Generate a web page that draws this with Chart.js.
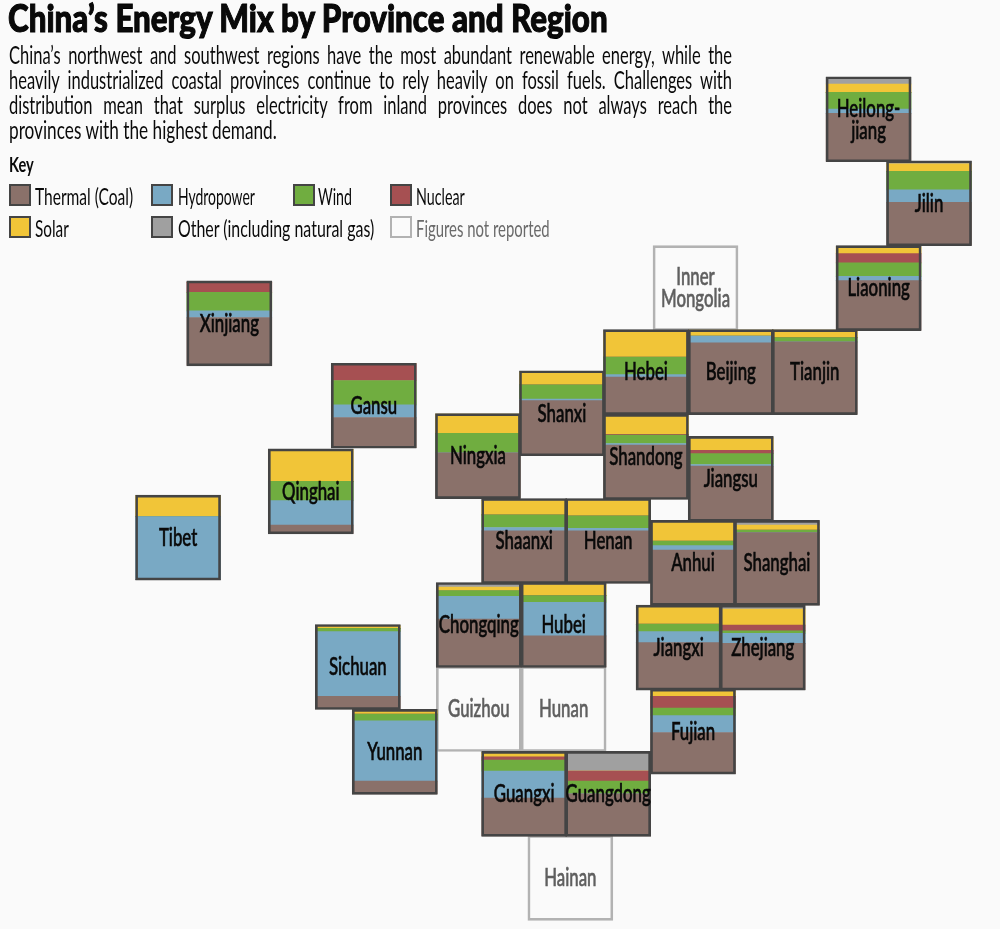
<!DOCTYPE html>
<html>
<head>
<meta charset="utf-8">
<title>China's Energy Mix by Province and Region</title>
<script src="https://cdn.jsdelivr.net/npm/chart.js@4"></script>
<style>
html, body { margin: 0; padding: 0; background: #fafafa; }
body { width: 1000px; height: 929px; position: relative; overflow: hidden; font-family: Lato, sans-serif; color: #0a0a0a; }
#wrap { position: absolute; left: 0; top: 0; width: 1000px; height: 929px; }
h1, .fit { transform-origin: 0 0; white-space: nowrap; }
h1 { position: absolute; left: 8px; top: -4px; margin: 0; font-size: 37px; line-height: 44px; font-weight: 900; -webkit-text-stroke: 1px #000; }
.line { position: absolute; left: 9px; margin: 0; font-size: 25px; line-height: 26px; }
#key { position: absolute; left: 9px; top: 152px; font-size: 21px; line-height: 24px; font-weight: bold; }
.item { position: absolute; font-size: 23px; line-height: 24px; margin-top: -1px; }
.swatch { position: absolute; width: 18px; height: 18px; border: 2px solid #444; }
</style>
</head>
<body>
<div id="wrap"><canvas id="tile-map" width="1000" height="929"></canvas></div>
<h1 class="fit" data-w="600">China’s Energy Mix by Province and Region</h1>
<div id="intro"></div>
<div id="key" class="fit" data-w="25">Key</div>
<div id="legend"></div>
<script>
const provinces = ["Heilong-\njiang", "Jilin", "Liaoning", "Inner\nMongolia", "Xinjiang", "Hebei", "Beijing", "Tianjin",
    "Gansu", "Shanxi", "Ningxia", "Shandong", "Jiangsu", "Qinghai", "Tibet", "Shaanxi",
    "Henan", "Anhui", "Shanghai", "Chongqing", "Hubei", "Jiangxi", "Zhejiang", "Sichuan",
    "Yunnan", "Guizhou", "Hunan", "Fujian", "Guangxi", "Guangdong", "Hainan"];

// tile grid position, in tile widths from the page corner
const gridCol = [9.84, 10.56, 9.96, 7.78, 2.23, 7.19, 8.2, 9.2,
    3.95, 6.19, 5.19, 7.19, 8.2, 3.2, 1.62, 5.74,
    6.74, 7.75, 8.75, 5.2, 6.21, 7.58, 8.58, 3.76,
    4.2, 5.2, 6.21, 7.75, 5.74, 6.74, 6.29];
const gridRow = [0.92, 1.92, 2.93, 2.93, 3.35, 3.93, 3.93, 3.93,
    4.33, 4.42, 4.93, 4.94, 5.2, 5.35, 5.9, 5.94,
    5.94, 6.2, 6.2, 6.94, 6.94, 7.21, 7.21, 7.44,
    8.45, 7.94, 7.94, 8.21, 8.95, 8.95, 9.95];

// share of generation in percent, null = figures not reported
const thermal = [57, 51, 59, null, 57, 44, 85, 86,
    36, 65, 54, 64, 65, 10, 0, 62,
    62, 65, 86, 57, 37, 56, 55, 15,
    15, null, null, 49, 45, 50, null];
const hydro = [5, 15, 5, null, 8, 3, 8, 0,
    15, 2, 0, 2, 2, 29, 75, 4,
    3, 5.5, 0, 27, 40, 13, 12, 77,
    72, null, null, 20, 32, 0, null];
const wind = [20, 22, 16, null, 22, 21, 0, 5,
    29, 17, 23, 10, 13, 23, 0, 15,
    15, 5.5, 3, 7, 8, 9, 3, 4,
    8, null, null, 9, 13, 15, null];
const nuclear = [0, 0, 11, null, 12, 0, 0, 0,
    20, 0, 0, 1, 4, 0, 0, 0,
    0, 0, 0, 0, 0, 0, 7, 0,
    0, null, null, 14, 4, 12, null];
const solar = [10, 9, 8, null, 0, 30, 7, 9,
    0, 15, 23, 22, 14, 38, 25, 17,
    18, 23, 6, 4, 13, 20, 19, 3,
    4, null, null, 6, 5, 0, null];
const other = [8, 3, 1, null, 1, 2, 0, 0,
    0, 1, 0, 1, 2, 0, 0, 2,
    2, 1, 5, 5, 2, 2, 4, 1,
    1, null, null, 2, 1, 23, null];

const seriesNames = ["Thermal (Coal)", "Hydropower", "Wind", "Nuclear", "Solar", "Other (including natural gas)"];
const seriesValues = [thermal, hydro, wind, nuclear, solar, other];
const seriesColors = ["#8a716a", "#79a9c4", "#70ad40", "#a65052", "#f1c538", "#a0a0a0"];

const introLines = [
    "China’s northwest and southwest regions have the most abundant renewable energy, while the",
    "heavily industrialized coastal provinces continue to rely heavily on fossil fuels. Challenges with",
    "distribution mean that surplus electricity from inland provinces does not always reach the",
    "provinces with the highest demand."
];

const tileLine = "#444444";
const missingLine = "#b2b2b2";
const tileSize = 84;
const narrow = 0.7;

// stack the shares upward from the bottom edge of each tile
const running = provinces.map(() => 0);
const fillSets = seriesNames.map((name, s) => {
    const points = [];
    provinces.forEach((p, i) => {
        const v = seriesValues[s][i];
        if (v === null) return;
        const bottom = gridRow[i] + 1 - running[i] / 100;
        points.push({ x: gridCol[i] + 0.5, y: [bottom, bottom - v / 100], province: p, share: v });
        running[i] += v;
    });
    return { label: name, data: points, backgroundColor: seriesColors[s], borderWidth: 0, order: 2 };
});

function outlineSet(label, color, order, test) {
    const points = [];
    provinces.forEach((p, i) => {
        if (test(i)) points.push({ x: gridCol[i] + 0.5, y: [gridRow[i] + 1.006, gridRow[i] - 0.006], province: p });
    });
    return {
        label: label,
        data: points,
        backgroundColor: "rgba(0,0,0,0)",
        borderColor: color,
        borderWidth: 2,
        borderSkipped: false,
        order: order
    };
}

const tileLabels = {
    id: "tileLabels",
    afterDatasetsDraw(chart) {
        const ctx = chart.ctx;
        const { x, y } = chart.scales;
        ctx.save();
        ctx.textAlign = "center";
        ctx.textBaseline = "middle";
        ctx.font = "500 24px Lato";
        ctx.lineWidth = 0.6;
        provinces.forEach((p, i) => {
            ctx.fillStyle = thermal[i] === null ? "#5f5f5f" : "#0a0a0a";
            ctx.strokeStyle = ctx.fillStyle;
            const lines = p.split("\n");
            const cx = x.getPixelForValue(gridCol[i] + 0.5);
            const cy = y.getPixelForValue(gridRow[i] + 0.5);
            lines.forEach((line, n) => {
                ctx.save();
                ctx.translate(cx, cy + 0.5 + (n - (lines.length - 1) / 2) * 22);
                ctx.scale(narrow, 1);
                ctx.fillText(line, 0, 0);
                ctx.strokeText(line, 0, 0);
                ctx.restore();
            });
        });
        ctx.restore();
    }
};

document.fonts.load("500 24px Lato").then(() => {
new Chart(document.getElementById("tile-map"), {
    type: 'bar',
    data: {
        datasets: [
            outlineSet("Figures not reported", missingLine, 3, i => thermal[i] === null),
            ...fillSets,
            outlineSet("Reported", tileLine, 1, i => thermal[i] !== null)
        ]
    },
    options: {
        responsive: false,
        animation: false,
        layout: { padding: 0 },
        datasets: { bar: { grouped: false, barThickness: tileSize + 1 } },
        scales: {
            x: { type: 'linear', display: false, offset: false, min: 0, max: 1000 / tileSize },
            y: { type: 'linear', display: false, reverse: true, min: 0, max: 929 / tileSize }
        },
        plugins: {
            legend: { display: false },
            title: { display: false },
            tooltip: {
                callbacks: {
                    title: items => items[0].raw.province.replace("-\n", "").replace("\n", " "),
                    label: item => item.dataset.label + (item.raw.share === undefined ? "" : ": " + item.raw.share + "%")
                }
            }
        }
    },
    plugins: [tileLabels]
});
});

// intro text, justified by hand line by line
introLines.forEach((text, n) => {
    const d = document.createElement("div");
    d.className = "line fit";
    d.textContent = text;
    d.style.top = (40.5 + n * 25.3) + "px";
    if (n < 3) {
        d.style.whiteSpace = "normal";
        d.style.width = (723 / 0.66) + "px";
        d.style.textAlignLast = "justify";
        d.style.transform = "scaleX(0.66)";
    } else {
        d.dataset.w = 268;
    }
    document.getElementById("intro").appendChild(d);
});

// key below the intro text
const keyItems = [
    ["Thermal (Coal)", seriesColors[0], 9, 35, 185, 98],
    ["Hydropower", seriesColors[1], 151, 178, 185, 77],
    ["Wind", seriesColors[2], 293, 318, 185, 34],
    ["Nuclear", seriesColors[3], 390, 416, 185, 49],
    ["Solar", seriesColors[4], 9, 35, 217, 34],
    ["Other (including natural gas)", seriesColors[5], 151, 178, 217, 196],
    ["Figures not reported", null, 390, 416, 217, 134]
];
keyItems.forEach(([name, color, boxLeft, left, top, w]) => {
    const box = document.createElement("div");
    box.className = "swatch";
    box.style.left = boxLeft + "px";
    box.style.top = (top - 1) + "px";
    box.style.background = color || "transparent";
    if (color === null) box.style.borderColor = missingLine;
    const d = document.createElement("div");
    d.className = "item fit";
    d.style.left = left + "px";
    d.style.top = top + "px";
    d.dataset.w = w;
    if (color === null) d.style.color = "#6a6a6a";
    d.textContent = name;
    const legend = document.getElementById("legend");
    legend.appendChild(box);
    legend.appendChild(d);
});

// squeeze the wide fonts to the reference text widths
document.fonts.ready.then(() => {
    document.querySelectorAll(".fit[data-w]").forEach(el => {
        el.style.display = "inline-block";
        el.style.transform = "scaleX(" + (el.dataset.w / el.offsetWidth) + ")";
    });
});
</script>
</body>
</html>
